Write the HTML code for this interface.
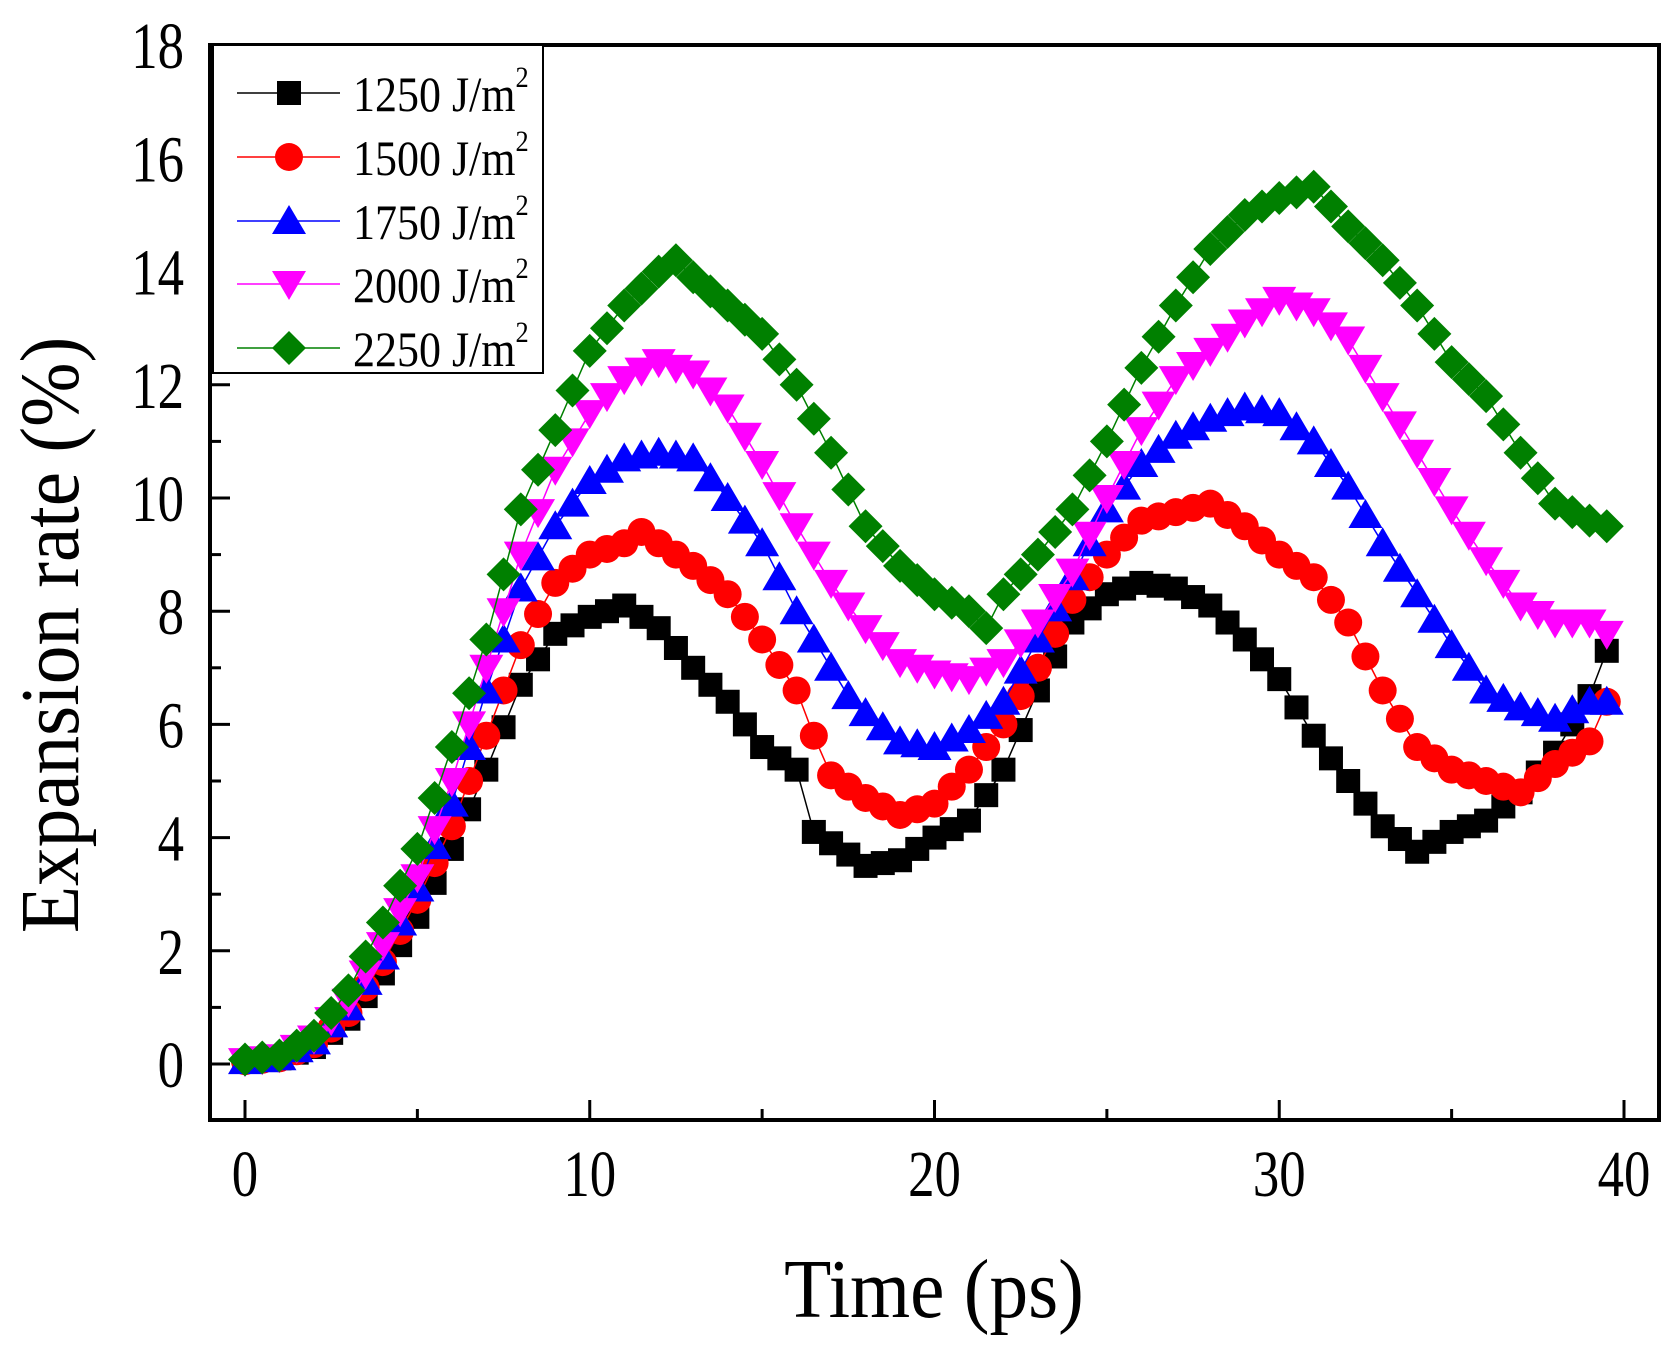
<!DOCTYPE html>
<html><head><meta charset="utf-8"><style>
html,body{margin:0;padding:0;background:#fff}
svg{display:block}
text{font-family:"Liberation Serif",serif;fill:#000}
</style></head><body>
<svg id="s" width="1673" height="1345" viewBox="0 0 1673 1345" xmlns="http://www.w3.org/2000/svg">
<rect width="1673" height="1345" fill="#fff"/>
<g id="ax"></g>
<g id="data"></g>
<g id="leg"></g>
</svg>
<script>
var NS="http://www.w3.org/2000/svg";
function el(p,t,a,txt){var e=document.createElementNS(NS,t);for(var k in a)e.setAttribute(k,a[k]);if(txt!==undefined)e.textContent=txt;p.appendChild(e);return e;}
var L=210,R=1659,T=45,B=1120;
function X(t){return 245+t*34.475;}
function Y(v){return 1064-v*56.6;}
var ax=document.getElementById('ax');
el(ax,'rect',{x:L,y:T,width:R-L,height:B-T,fill:'none',stroke:'#000','stroke-width':4});
for(var v=0;v<=18;v++){var y=Y(v);if(y<T+2)continue;el(ax,'line',{x1:L,y1:y,x2:L+(v%2?11:20),y2:y,stroke:'#000','stroke-width':3});}
for(var v=0;v<=18;v+=2){el(ax,'text',{x:0,y:0,'font-size':66,'text-anchor':'end',transform:'translate(184,'+(Y(v)+23)+') scale(0.8,1)'},v);}
for(var t=0;t<=40;t+=5){el(ax,'line',{x1:X(t),y1:B,x2:X(t),y2:B-(t%10?11:20),stroke:'#000','stroke-width':3});}
for(var t=0;t<=40;t+=10){el(ax,'text',{x:0,y:0,'font-size':66,'text-anchor':'middle',transform:'translate('+X(t)+',1196) scale(0.8,1)'},t);}
el(ax,'text',{x:0,y:0,'font-size':84,'text-anchor':'middle',transform:'translate(934,1317) scale(0.92,1)'},'Time (ps)');
el(ax,'text',{x:0,y:0,'font-size':84,'text-anchor':'middle',transform:'translate(78,635) rotate(-90) scale(0.92,1)'},'Expansion rate (%)');
var S=[
{c:'#000',m:'sq',d:[[0,0.05],[1,0.1],[2,0.3],[3,0.8],[4,1.6],[5,2.6],[6,3.8],[7,5.2],[8,6.7],[9,7.6],[10,7.9],[11,8.1],[12,7.7],[13,7.0],[14,6.4],[15,5.6],[16,5.2],[16.5,4.1],[17,3.9],[18,3.5],[19,3.6],[20,4.0],[21,4.3],[22,5.2],[23,6.6],[24,7.8],[25,8.3],[26,8.5],[27,8.4],[28,8.1],[29,7.5],[30,6.8],[31,5.8],[32,5.0],[33,4.2],[34,3.75],[35,4.1],[36,4.3],[37,4.8],[38,5.5],[39,6.5],[39.5,7.3]]},
{c:'#f00',m:'ci',d:[[0,0.05],[1,0.1],[2,0.35],[3,0.9],[4,1.8],[5,2.9],[6,4.2],[7,5.8],[8,7.4],[9,8.5],[10,9.0],[11,9.2],[11.5,9.4],[12,9.2],[13,8.8],[14,8.3],[15,7.5],[16,6.6],[16.5,5.8],[17,5.1],[18,4.7],[19,4.4],[20,4.6],[21,5.2],[22,6.0],[23,7.0],[24,8.2],[25,9.0],[26,9.6],[27,9.75],[28,9.9],[29,9.5],[30,9.0],[31,8.6],[32,7.8],[33,6.6],[34,5.6],[35,5.2],[36,5.0],[37,4.8],[38,5.3],[39,5.7],[39.5,6.4]]},
{c:'#00f',m:'tu',d:[[0,0.05],[1,0.12],[2,0.4],[3,1.0],[4,1.9],[5,3.1],[6,4.6],[7,6.6],[8,8.4],[9,9.5],[10,10.3],[11,10.7],[12,10.8],[13,10.7],[14,10.0],[15,9.2],[16,8.0],[17,7.0],[17.5,6.5],[18,6.2],[19,5.7],[20,5.6],[21,5.9],[22,6.4],[23,7.5],[24,8.6],[25,9.8],[26,10.6],[27,11.1],[28,11.4],[29,11.6],[30,11.5],[31,11.0],[32,10.2],[33,9.2],[34,8.3],[35,7.4],[36,6.6],[37,6.3],[38,6.1],[39,6.4],[39.5,6.4]]},
{c:'#f0f',m:'td',d:[[0,0.05],[1,0.12],[2,0.45],[3,1.1],[4,2.1],[5,3.3],[6,5.0],[7,7.0],[8,9.0],[9,10.5],[10,11.5],[11,12.1],[12,12.4],[13,12.2],[14,11.6],[15,10.6],[16,9.5],[17,8.5],[18,7.7],[19,7.1],[20,6.9],[21,6.8],[22,7.1],[23,7.8],[24,8.7],[25,10.0],[26,11.2],[27,12.1],[28,12.6],[29,13.1],[30,13.5],[31,13.3],[32,12.8],[33,11.8],[34,10.8],[35,9.8],[36,8.9],[37,8.1],[38,7.8],[39,7.8],[39.5,7.6]]},
{c:'#008000',m:'di',d:[[0,0.08],[1,0.15],[2,0.5],[3,1.3],[4,2.5],[5,3.8],[6,5.6],[7,7.5],[8,9.8],[9,11.2],[10,12.6],[11,13.4],[12,14.0],[12.5,14.2],[13,13.9],[14,13.4],[15,12.9],[16,12.0],[17,10.8],[18,9.5],[19,8.8],[20,8.3],[21,8.0],[21.5,7.7],[22,8.3],[23,9.0],[24,9.8],[25,11.0],[26,12.3],[27,13.4],[28,14.4],[29,15.0],[30,15.3],[31,15.5],[32,14.8],[33,14.2],[34,13.4],[35,12.4],[36,11.8],[37,10.8],[38,9.9],[39,9.6],[39.5,9.5]]}];
function interp(d,t){for(var i=0;i<d.length-1;i++){if(t>=d[i][0]&&t<=d[i+1][0]){var f=(t-d[i][0])/(d[i+1][0]-d[i][0]);return d[i][1]+f*(d[i+1][1]-d[i][1]);}}return d[d.length-1][1];}
function marker(g,m,x,y,c){
 if(m=='sq')el(g,'rect',{x:x-12,y:y-12,width:24,height:24,fill:c});
 else if(m=='ci')el(g,'circle',{cx:x,cy:y,r:14,fill:c});
 else if(m=='tu')el(g,'polygon',{points:(x)+','+(y-16)+' '+(x-17)+','+(y+13)+' '+(x+17)+','+(y+13),fill:c});
 else if(m=='td')el(g,'polygon',{points:(x)+','+(y+16)+' '+(x-17)+','+(y-13)+' '+(x+17)+','+(y-13),fill:c});
 else el(g,'polygon',{points:x+','+(y-17)+' '+(x+17)+','+y+' '+x+','+(y+17)+' '+(x-17)+','+y,fill:c});
}
var dg=document.getElementById('data');
S.forEach(function(s){var pts=[];for(var t=0;t<=39.5;t+=0.5){pts.push([X(t),Y(interp(s.d,t))]);}
 el(dg,'polyline',{points:pts.map(function(p){return p[0].toFixed(1)+','+p[1].toFixed(1)}).join(' '),fill:'none',stroke:s.c,'stroke-width':1.5});
 pts.forEach(function(p){marker(dg,s.m,p[0],p[1],s.c);});});
var lg=document.getElementById('leg');
el(lg,'rect',{x:213,y:45,width:330,height:328,fill:'#fff',stroke:'#000','stroke-width':2});
var labs=['1250','1500','1750','2000','2250'],ly=[93,157,221,284,348];
S.forEach(function(s,i){el(lg,'line',{x1:237,y1:ly[i],x2:340,y2:ly[i],stroke:s.c,'stroke-width':1.5});marker(lg,s.m,289,ly[i],s.c);
 var t=el(lg,'text',{x:0,y:0,'font-size':50,transform:'translate(353,'+(ly[i]+18)+') scale(0.88,1)'},labs[i]+' J/m');el(t,'tspan',{'font-size':30,dy:-24},'2');});
</script>
</body></html>
